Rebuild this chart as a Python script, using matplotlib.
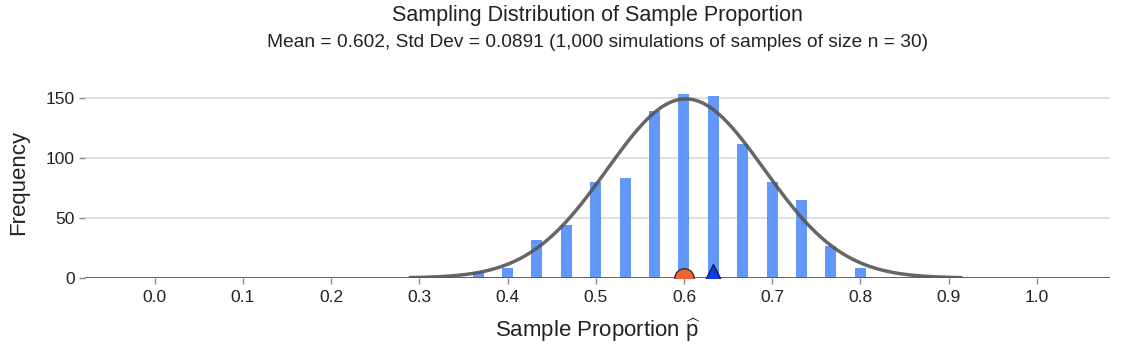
import numpy as np
import matplotlib
matplotlib.use("Agg")
import matplotlib.pyplot as plt
import matplotlib.transforms as mtransforms

plt.rcParams['font.family'] = ['Liberation Sans', 'DejaVu Sans']
plt.rcParams['mathtext.fontset'] = 'custom'
plt.rcParams['mathtext.rm'] = 'Liberation Sans'
plt.rcParams['mathtext.it'] = 'Liberation Sans'

# Data
successes = [10, 11, 12, 13, 14, 15, 16, 17, 18, 19, 20, 21, 22, 23, 24]
n_size = 30
frequencies = [1, 5, 8, 32, 44, 80, 83, 139, 153, 152, 112, 80, 65, 27, 8]
n_sims = 1000
mean_phat = 0.602
sd_phat = 0.0891
pop_p = 0.6
sample_phat = 19 / 30
x_ticks = [0.0, 0.1, 0.2, 0.3, 0.4, 0.5, 0.6, 0.7, 0.8, 0.9, 1.0]
y_ticks = [0, 50, 100, 150]

props = np.array(successes) / n_size

fig = plt.figure(figsize=(11.25, 3.51), dpi=100)
ax = fig.add_axes([85/1125, 73/351, 1025/1125, 192/351])

ax.bar(props, frequencies, width=0.0125, color='#6198fa', zorder=2)

xs = np.linspace(mean_phat - 3.5 * sd_phat, mean_phat + 3.5 * sd_phat, 400)
pdf = np.exp(-0.5 * ((xs - mean_phat) / sd_phat) ** 2) / (sd_phat * np.sqrt(2 * np.pi))
ax.plot(xs, pdf * n_sims / n_size, color='#555555', lw=2.5, alpha=0.9, zorder=3)

ax.axhline(0, color='#555555', lw=2, zorder=4)
ax.plot([pop_p], [0], marker='o', ms=14, color='#f26430', mec='#333333', mew=1, zorder=5, clip_on=True)
tri, = ax.plot([sample_phat], [0], marker='^', ms=12, color='#0a3cf0', mec='#1a1a4a', mew=1, zorder=5,
               clip_on=True)
tri.set_transform(ax.transData + mtransforms.ScaledTranslation(0, 6/100, fig.dpi_scale_trans))

ax.set_xlim(-0.079, 1.083)
ax.set_ylim(0, 160)
ax.set_xticks(x_ticks)
ax.set_xticklabels([f'{v:.1f}' for v in x_ticks])
ax.set_yticks(y_ticks)
ax.yaxis.grid(True, color='#d9d9d9', lw=1.2, zorder=0)
ax.set_axisbelow(True)
for s in ax.spines.values():
    s.set_visible(False)
ax.tick_params(axis='both', colors='#888888', labelcolor='#222222', labelsize=12.5, length=4, width=1)
ax.tick_params(axis='x', pad=5)

ax.set_xlabel(r'Sample Proportion $\widehat{p}$', fontsize=16, color='#222222', labelpad=8)
ax.set_ylabel('Frequency', fontsize=16, color='#222222', labelpad=12)

fig.text(0.531, 0.955, 'Sampling Distribution of Sample Proportion', ha='center', va='center',
         fontsize=15.5, color='#222222')
fig.text(0.531, 0.88, 'Mean = 0.602, Std Dev = 0.0891 (1,000 simulations of samples of size n = 30)',
         ha='center', va='center', fontsize=13.8, color='#222222')

fig.savefig('out.png', dpi=100, facecolor='white')
